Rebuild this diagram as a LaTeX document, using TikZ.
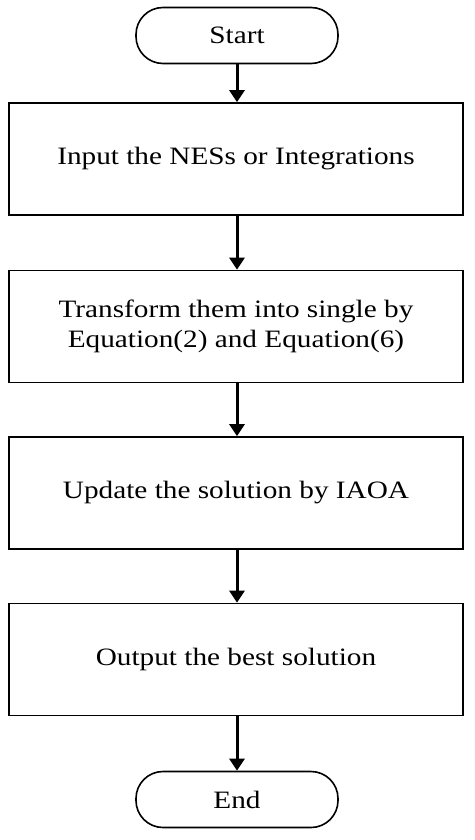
\documentclass[tikz,border=0pt]{standalone}
\usepackage{fontspec}
\setmainfont{Liberation Serif}[FakeStretch=1.17]
\usetikzlibrary{arrows.meta}
\begin{document}
\begin{tikzpicture}[x=1pt,y=-1pt,
  procbox/.style={draw, line width=1.6pt, minimum width=454pt, minimum height=112pt, inner sep=0pt, align=center, font=\fontsize{25}{30}\selectfont},
  termbox/.style={draw, line width=1.6pt, minimum width=202pt, minimum height=56pt, rounded corners=27pt, inner sep=0pt, font=\fontsize{25}{30}\selectfont},
  flow/.style={line width=3pt, -{Triangle[length=12pt,width=15pt]}}]
\useasboundingbox (0,0) rectangle (474,840);
\node[termbox] (start) at (237,35.5) {Start};
\node[procbox] (b1) at (236,159) {Input the NESs or Integrations};
\node[procbox] (b2) at (236,326.5) {Transform them into single by\\Equation(2) and Equation(6)};
\node[procbox] (b3) at (236,493) {Update the solution by IAOA};
\node[procbox] (b4) at (236,659.5) {Output the best solution};
\node[termbox] (end) at (237,799.5) {End};
\draw[flow] (start.south) -- (start.south |- b1.north);
\draw[flow] (b1.south -| start.south) -- (start.south |- b2.north);
\draw[flow] (b2.south -| start.south) -- (start.south |- b3.north);
\draw[flow] (b3.south -| start.south) -- (start.south |- b4.north);
\draw[flow] (b4.south -| start.south) -- (end.north);
\end{tikzpicture}
\end{document}
